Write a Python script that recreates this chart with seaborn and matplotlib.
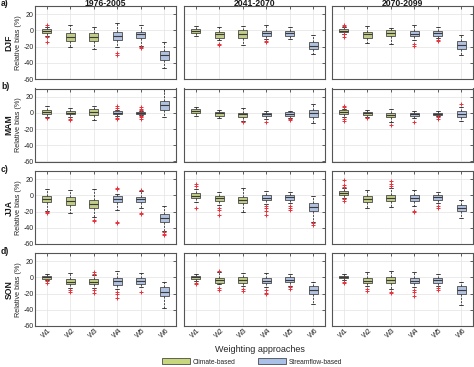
import numpy as np
import pandas as pd
import matplotlib
matplotlib.use("Agg")
import matplotlib.pyplot as plt
import seaborn as sns
from matplotlib.patches import Patch

# ---------------- data ----------------
approaches = ["W1", "W2", "W3", "W4", "W5", "W6"]
groups = ["Climate-based", "Climate-based", "Climate-based",
          "Streamflow-based", "Streamflow-based", "Streamflow-based"]
seasons = ["DJF", "MAM", "JJA", "SON"]
periods = ["1976-2005", "2041-2070", "2070-2099"]
panel_letters = ["a)", "b)", "c)", "d)"]
yticks = [20, 0, -20, -40, -60]

# five-number summaries per approach: [lower whisker, Q1, median, Q3, upper whisker]
djf_p1 = [[-7, -3.3, -0.5, 2, 4], [-21, -13.3, -8.3, -3.7, 6], [-23, -13.3, -8.5, -3.7, 4],
          [-20, -12, -7.5, -2.5, 9], [-19, -9.6, -5, -1.7, 6], [-46, -36.6, -31, -26, -14]]
djf_p1_out = [[6, -8, -14], [], [], [-27.5, -31], [-20, -22], []]
djf_p2 = [[-7, -3.8, -1.3, 1.7, 5], [-12, -9, -5, -2, 4], [-17.5, -9, -4, 0, 5.5],
          [-10.6, -7, -3.4, -1, 6.4], [-11, -6.4, -3, -0.4, 4], [-29, -22.5, -19, -15, -6]]
djf_p2_out = [[], [-16.6, -18], [], [-13.6, -15], [], []]
djf_p3 = [[-4, -2, -0.4, 1.3, 4], [-16, -9, -4.7, -1.7, 5], [-17, -7.2, -3, 0.4, 3],
          [-12.3, -7, -4, -1, 6], [-10, -6.4, -3, -1, 4], [-30, -22.5, -18, -12.8, -6]]
djf_p3_out = [[7, 5, -5, -7.7], [], [], [-17, -19], [-12, -13.6], []]

mam_p1 = [[-5, -1.7, 1.2, 3.8, 8.3], [-5.4, -2, 0, 1.7, 5.4], [-8.3, -3, 0.8, 4.6, 8.3],
          [-4, -1.7, 0, 1.7, 4], [-2.5, -1.2, 0, 1.2, 2.5], [-5, 4, 10, 15, 29]]
mam_p1_out = [[-6], [-7, -9], [], [8, 6, -6, -8], [7.5, 5, 3.3, -3.3, -5, -7], []]
mam_p2 = [[-4, -0.8, 1.7, 4.2, 7.5], [-6.7, -3.3, -0.8, 1.2, 3], [-10, -4.6, -1.7, 0.4, 5.8],
          [-7, -3.8, -1.7, 0.4, 2], [-6.4, -3.3, -1.2, 0.8, 2], [-13, -5, -0.8, 3.3, 10.4]]
mam_p2_out = [[], [], [-11], [-11.7], [-8, -9], []]
mam_p3 = [[-5, -1.2, 1.2, 3.3, 5], [-5, -2.5, -0.8, 0.8, 3.8], [-11, -5, -2.5, 0.4, 5],
          [-6.7, -3.8, -1.7, 0.4, 2.5], [-4, -2.5, -1.2, 0.4, 2.5], [-10, -4.6, -1.2, 2.5, 7.5]]
mam_p3_out = [[8.3, 6.7, -8, -10], [-6], [-14.6], [-11], [-5, -7], [11]]

jja_p1 = [[-19, -8.2, -4.5, -0.4, 7.8], [-21.6, -11.8, -6.5, -2.4, 7], [-27, -15.5, -11, -5.7, 7.8],
          [-18, -8.6, -4.5, -1.2, 1.2], [-15, -8.2, -5, -2, 5.7], [-43.7, -32.6, -28, -23, -13.5]]
jja_p1_out = [[-20.4, -21.6], [], [-30, -32], [9, 7.3, -32.6, -34], [7, -21.6, -23], [-45, -47.8, -49]]
jja_p2 = [[-8.6, -3.7, -0.4, 2.4, 7.8], [-11.8, -6.5, -3.3, -0.4, 4.5], [-20.8, -9.8, -5.3, -2, 9.4],
          [-11, -5.7, -2.9, 0, 5.7], [-10, -5.3, -2, 0.8, 4.5], [-33, -19.6, -14.3, -9.4, -0.4]]
jja_p2_out = [[13.5, 11, -16], [-15.5, -17.5, -23.7], [], [-12.7, -16, -19.6, -23.7],
              [-12.7, -15.5, -18.4], [-34, -36]]
jja_p3 = [[-2.9, 0.4, 2.9, 5.3, 8.6], [-16, -8.6, -4.5, -0.8, 6], [-14.7, -6.5, -2.9, 0.4, 8.6],
          [-12.7, -7.3, -3.7, 0, 7], [-9.4, -5.7, -2.4, 0, 4.5], [-28, -18.8, -15.5, -11.8, -6]]
jja_p3_out = [[18.8, 13, 10, -4.5, -7], [], [17.5, 13.5, 11], [-19, -20.8], [-13.5, -15], []]

son_p1 = [[-3, -2, 0, 2, 4], [-13, -8.8, -5.8, -2, 5.4], [-13.3, -8.8, -5.8, -2, 3.3],
          [-14.6, -9, -5, -0.8, 7.5], [-12.5, -8, -4, -0.8, 5.4], [-38, -23, -18, -12.5, -5.8]]
son_p1_out = [[-5, -7], [-16, -18], [6.7, 4, -16, -19], [-17.5, -20, -25], [-18], []]
son_p2 = [[-4.6, -1.7, 0, 2, 3.8], [-8.8, -6.7, -3.8, -0.8, 6.2], [-10.8, -6.7, -3.3, 0, 5],
          [-11.7, -7.5, -4.2, -0.4, 5], [-10.8, -5.8, -3, 0, 4.2], [-32.5, -20.4, -15, -10.4, -6.2]]
son_p2_out = [[-6.7, -8.3], [8, -13.7, -15.8], [-14.6, -16.7], [-15.8, -18.8, -21], [-12.5, -14.6], []]
son_p3 = [[-3.3, -0.8, 0.4, 1.7, 4.6], [-10.4, -7.5, -4.6, -1.2, 6.7], [-14.6, -7.5, -3.3, 0, 8.3],
          [-11.7, -7.5, -4.2, -1.2, 6.7], [-11.2, -6.7, -3.3, -0.8, 4.6], [-34, -21, -15.8, -10.8, -6.2]]
son_p3_out = [[-5.4, -7.5], [-14.6, -16.7], [-17.5, -19], [-15, -17.5, -22.5], [-13, -15.4], []]

panel_stats = {
    ("DJF", 0): (djf_p1, djf_p1_out), ("DJF", 1): (djf_p2, djf_p2_out), ("DJF", 2): (djf_p3, djf_p3_out),
    ("MAM", 0): (mam_p1, mam_p1_out), ("MAM", 1): (mam_p2, mam_p2_out), ("MAM", 2): (mam_p3, mam_p3_out),
    ("JJA", 0): (jja_p1, jja_p1_out), ("JJA", 1): (jja_p2, jja_p2_out), ("JJA", 2): (jja_p3, jja_p3_out),
    ("SON", 0): (son_p1, son_p1_out), ("SON", 1): (son_p2, son_p2_out), ("SON", 2): (son_p3, son_p3_out),
}

# ---------------- style ----------------
sns.set_style("white")
plt.rcParams["font.family"] = ["Liberation Sans", "DejaVu Sans"]
palette = {"Climate-based": "#c9d77c", "Streamflow-based": "#a9c0e8"}
edge = "#4a4a4a"

W, H = 474, 367
fig = plt.figure(figsize=(W / 100, H / 100), dpi=100)

col_left = [35, 184, 332]
col_w = 141
row_top = [6, 88.5, 171, 253]
row_h = 73

for r, season in enumerate(seasons):
    for c in range(3):
        ax = fig.add_axes([col_left[c] / W, 1 - (row_top[r] + row_h) / H, col_w / W, row_h / H])
        stats, outs = panel_stats[(season, c)]
        rows = []
        for a, g, s in zip(approaches, groups, stats):
            for v in s:
                rows.append({"approach": a, "group": g, "value": v})
        df = pd.DataFrame(rows)
        sns.boxplot(data=df, x="approach", y="value", hue="group", order=approaches,
                    hue_order=list(palette.keys()), palette=palette, dodge=False,
                    whis=(0, 100), width=0.38, linewidth=0.6, linecolor=edge,
                    whiskerprops={"linestyle": (0, (2.5, 1.5)), "color": "#333333"},
                    capprops={"color": "#222222"},
                    medianprops={"color": "#3a3a3a", "linewidth": 0.8},
                    legend=False, ax=ax)
        orows = []
        for a, o in zip(approaches, outs):
            for v in o:
                orows.append({"approach": a, "value": v})
        if orows:
            dfo = pd.DataFrame(orows)
            sns.stripplot(data=dfo, x="approach", y="value", order=approaches, jitter=False,
                          marker="+", color="#e8323c", size=3.5, linewidth=0.7, ax=ax)
        ax.set_xlim(-0.5, 5.5)
        ax.set_ylim(-60, 30)
        ax.set_yticks(yticks)
        ax.set_xticks(range(len(approaches)))
        ax.grid(True, color="#e3e3e3", linewidth=0.5)
        ax.set_axisbelow(True)
        ax.tick_params(direction="in", top=True, right=True, length=2, width=0.5,
                       labelsize=5.0, colors="#262626", pad=1.0)
        for sp in ax.spines.values():
            sp.set_color("#555555")
            sp.set_linewidth(0.8)
        ax.set_xlabel("")
        ax.set_ylabel("")
        if c == 0:
            ax.set_yticklabels([str(t) for t in yticks])
        else:
            ax.set_yticklabels([])
        if r == 3:
            ax.set_xticklabels(approaches, rotation=45, ha="center")
        else:
            ax.set_xticklabels([])
        if r == 0:
            ax.text(0.5, 1 + 3 / row_h, periods[c], transform=ax.transAxes, ha="center",
                    va="center", fontsize=6.2, fontweight="bold", color="#1a1a1a")
    yc = 1 - (row_top[r] + row_h / 2) / H
    fig.text(9 / W, yc, season, rotation=90, ha="center", va="center",
             fontsize=6.2, fontweight="bold", color="#1a1a1a")
    fig.text(18.5 / W, yc, "Relative bias (%)", rotation=90, ha="center", va="center",
             fontsize=5.2, color="#262626")
    fig.text(1 / W, 1 - (row_top[r] - 2) / H, panel_letters[r], ha="left", va="center",
             fontsize=6.2, fontweight="bold", color="#1a1a1a")

fig.text(260 / W, 1 - 349 / H, "Weighting approaches", ha="center", va="center",
         fontsize=6.5, color="#262626")
handles = [Patch(facecolor=palette[g], edgecolor=edge, linewidth=0.6) for g in palette]
fig.legend(handles, list(palette.keys()), loc="center", bbox_to_anchor=(252 / W, 1 - 362 / H),
           ncol=2, frameon=False, fontsize=4.8, handlelength=4.2, handleheight=0.9,
           columnspacing=3.5, handletextpad=0.4)

fig.savefig("out.png", dpi=100)
